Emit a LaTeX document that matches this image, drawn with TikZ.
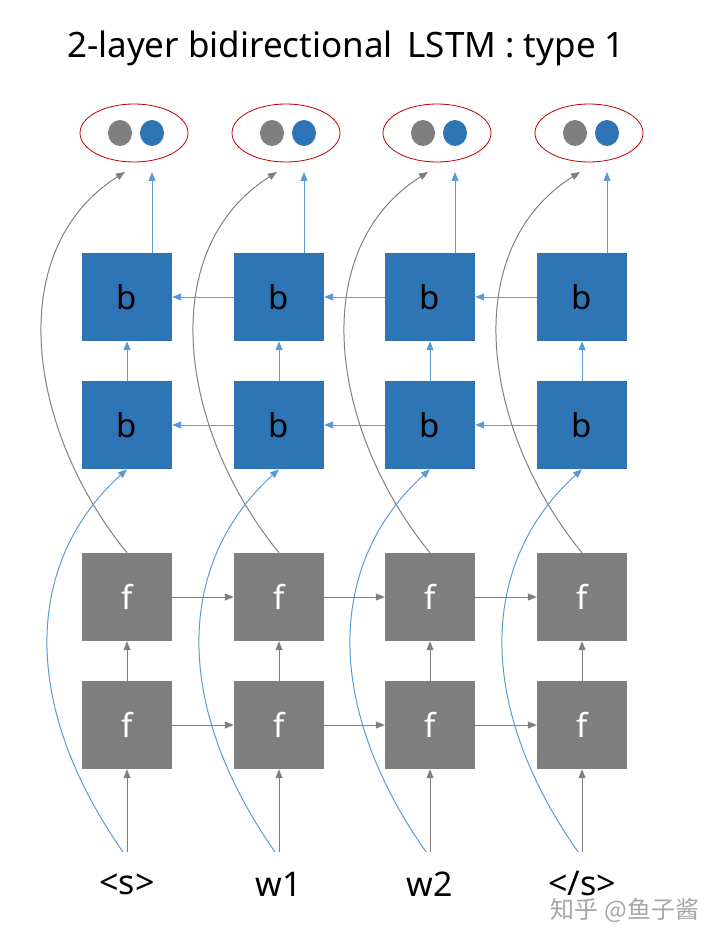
\documentclass[tikz,border=0pt]{standalone}
\usepackage{fontspec}
\setmainfont{Noto Sans}
\newfontfamily\cjk{Noto Sans CJK SC}
\usetikzlibrary{arrows.meta,shapes.geometric}
\definecolor{bb}{RGB}{46,117,182}
\definecolor{bl}{RGB}{91,155,213}
\definecolor{gg}{RGB}{127,127,127}
\begin{document}
\begin{tikzpicture}[x=1pt,y=-1pt,
 bbox/.style={draw=none,fill=bb,minimum width=90pt,minimum height=88pt,inner sep=0,font=\fontsize{33}{36}\selectfont,text=black},
 fbox/.style={draw=none,fill=gg,minimum width=90pt,minimum height=88pt,inner sep=0,font=\fontsize{33}{36}\selectfont,text=white},
 oval/.style={draw=red!75!black,thick,ellipse,minimum width=108pt,minimum height=58pt},
 ga/.style={draw=gg,line width=1pt,-{Triangle[length=9pt,width=7pt]}},
 ba/.style={draw=bl,line width=1pt,-{Triangle[length=9pt,width=7pt]}},
 lab/.style={font=\fontsize{34}{36}\selectfont}]
\useasboundingbox (0,0) rectangle (712,944);
\node[font=\fontsize{35}{38}\selectfont] (title) at (346,48) {2-layer bidirectional\, LSTM : type 1};
\foreach \i/\x/\t in {1/127/{<s>},2/279/w1,3/430/w2,4/582/{</s>}}{
  \node[oval] (o\i) at (\x+7,133) {};
  \fill[gg] (\x-7,133) ellipse (12pt and 13pt);
  \fill[bb] (\x+25,133) ellipse (12pt and 13pt);
  \node[bbox] (bt\i) at (\x,297) {b};
  \node[bbox] (bl\i) at (\x,425) {b};
  \node[fbox] (ft\i) at (\x,597) {f};
  \node[fbox] (fl\i) at (\x,725) {f};
  \coordinate (in\i) at (\x,852);
  \node[lab] (w\i) at (\x,884) {\t};
  \draw[ga] (in\i) -- (fl\i);
  \draw[ga] (fl\i) -- (ft\i);
  \draw[ba] (bl\i) -- (bt\i);
  \draw[ba] ([xshift=25pt]bt\i.north) -- (\x+25,172);
  \draw[ga] (ft\i.north) .. controls (\x-100,430) and (\x-125,250) .. (\x-2,172);
  \draw[ba] ([xshift=-4pt]in\i) .. controls (\x-110,700) and (\x-100,560) .. (bl\i.south);
}
\foreach \a/\b in {1/2,2/3,3/4}{
  \draw[ga] (fl\a) -- (fl\b);
  \draw[ga] (ft\a) -- (ft\b);
  \draw[ba] (bl\b) -- (bl\a);
  \draw[ba] (bt\b) -- (bt\a);
}
\node[text=gray!70,font=\cjk\fontsize{24}{26}\selectfont] (wm) at (625,910) {知乎 @鱼子酱};
\end{tikzpicture}
\end{document}
